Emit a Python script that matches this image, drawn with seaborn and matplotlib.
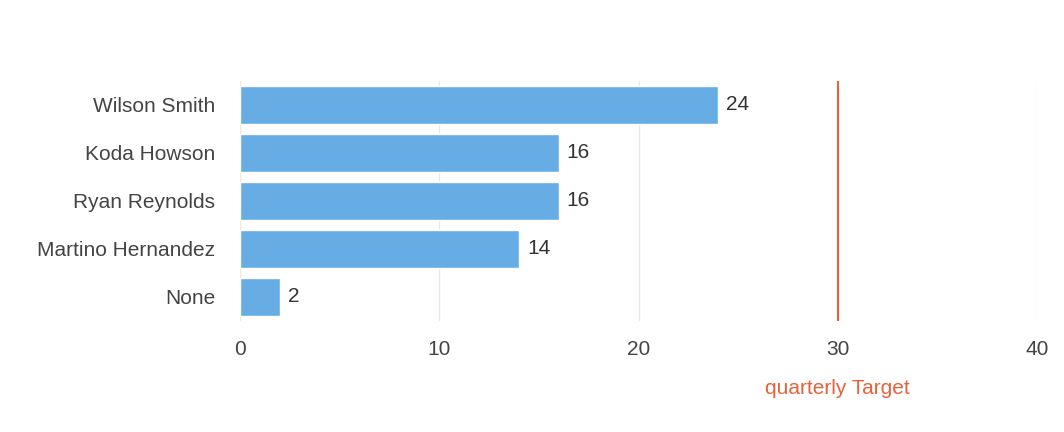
import matplotlib
matplotlib.use("Agg")
import matplotlib.pyplot as plt
import seaborn as sns
import pandas as pd

names = ["Wilson Smith", "Koda Howson", "Ryan Reynolds", "Martino Hernandez", "None"]
values = [24, 16, 16, 14, 2]
target = 30
target_label = "quarterly Target"
xticks = [0, 10, 20, 30, 40]

sns.set_theme(style="white")
plt.rcParams['font.family'] = ['Liberation Sans', 'DejaVu Sans']

df = pd.DataFrame({"name": names, "value": values})
fig = plt.figure(figsize=(10.64, 4.32), dpi=100)
ax = fig.add_axes([0.2256, 0.257, 0.749, 0.5556])
sns.barplot(data=df, y="name", x="value", color="#66ade6", saturation=1, width=0.8, ax=ax, orient="h")
for i, v in enumerate(values):
    ax.text(v + 0.4, i, str(v), va="center", ha="left", fontsize=15, color="#333333")
ax.set_xlim(0, 40)
ax.set_ylim(4.5, -0.5)
ax.set_xticks(xticks)
ax.grid(axis="x", color="#e8e8e8", linewidth=1)
ax.set_axisbelow(True)
for s in ax.spines.values():
    s.set_visible(False)
ax.tick_params(axis="both", length=0, labelsize=15, colors="#444444")
ax.tick_params(axis="x", pad=14)
ax.tick_params(axis="y", pad=18)
ax.set_xlabel("")
ax.set_ylabel("")
ax.axvline(target, color="#e8613a", linewidth=1.5)
ax.text(target, 4.5 + 1.4, target_label, color="#e8613a", ha="center", va="center", fontsize=15)
fig.savefig("out.png", dpi=100)
